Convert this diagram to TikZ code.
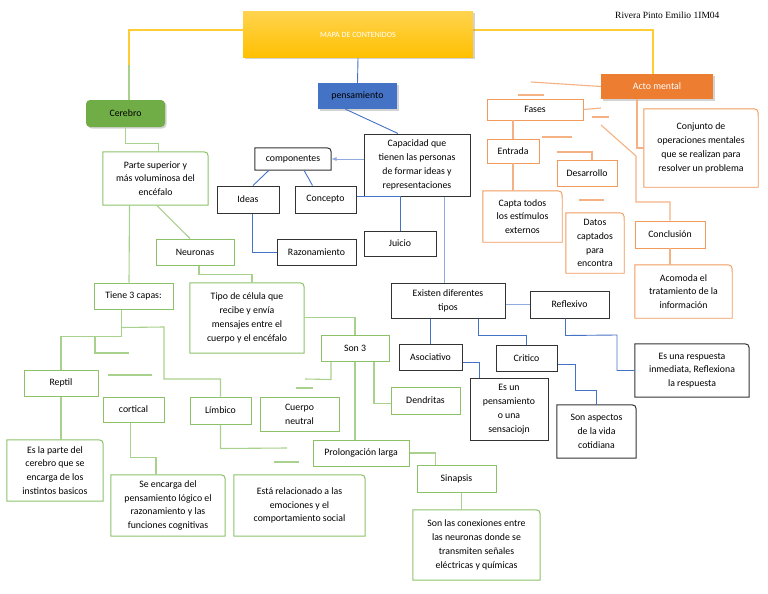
\documentclass[tikz,border=0pt]{standalone}
\usepackage{fontspec}
\setmainfont{Carlito}
\newfontfamily\tms{Liberation Serif}
\usetikzlibrary{shadows}
\definecolor{gln}{HTML}{A9D18E}
\definecolor{gbd}{HTML}{8CC168}
\definecolor{gfill}{HTML}{70AD47}
\definecolor{bln}{HTML}{4472C4}
\definecolor{lbl}{HTML}{8FAADC}
\definecolor{oln}{HTML}{F4B183}
\definecolor{obd}{HTML}{F19A5B}
\definecolor{ofill}{HTML}{ED7D31}
\definecolor{yfill}{HTML}{FFC000}
\definecolor{dk}{HTML}{333333}
\newcommand\bx[7]{\node[#6, minimum width={(#4-#2)*1pt}, minimum height={(#5-#3)*1pt}] (#1) at ({(#2+#4)/2},{(#3+#5)/2}) {#7};}
\newcommand\rc[2]{\draw[#2] (#1.south west) -- (#1.north west) -- ([xshift=-9pt]#1.north east) .. controls (#1.north east) .. ([yshift=-9pt]#1.north east) -- (#1.south east) -- cycle;}
\begin{document}
\begin{tikzpicture}[x=1pt,y=-1pt,
  every node/.style={font=\fontsize{9.8}{13.8}\selectfont, align=center, inner sep=0pt},
  gb/.style={draw=gbd, line width=1pt},
  gr/.style={draw=none},
  kb/.style={draw=dk, line width=1pt},
  ob/.style={draw=obd, line width=0.9pt},
  gl/.style={draw=gln, line width=1.1pt},
  bl/.style={draw=bln, line width=0.9pt},
  ll/.style={draw=lbl, line width=0.9pt},
  ol/.style={draw=oln, line width=1.1pt},
  sh/.style={drop shadow={opacity=0.35,shadow xshift=1.5pt,shadow yshift=-1.5pt}}]
\useasboundingbox (0,0) rectangle (768,594);

% connectors first
\draw[draw=yfill!80, line width=1.2pt] (243,30) -- (129,30) -- (129,65);
\draw[gl] (129,65) -- (129,100);
\draw[draw=yfill!80, line width=1.2pt] (473,30) -- (653,30) -- (653,74);

% top boxes
\bx{mapa}{243}{12}{473}{58}{sh, top color=yfill!70, bottom color=yfill, draw=none, text=white, font=\fontsize{8}{10}\selectfont}{MAPA DE CONTENIDOS}
\bx{acto}{601}{74}{713}{99}{sh, fill=ofill, text=white}{Acto mental}
\bx{pens}{318}{83}{397}{109}{sh, fill=bln}{pensamiento}
\bx{cer}{86}{100}{165}{127}{sh, fill=gfill, rounded corners=4pt}{Cerebro}
\node[font=\tms\fontsize{9.5}{11}\selectfont, anchor=west] (autor) at (615,15) {Rivera Pinto Emilio 1IM04};

% pensamiento branch
\bx{cap}{364}{134}{470}{196}{kb}{Capacidad que\\tienen las personas\\de formar ideas y\\representaciones}
\bx{comp}{255}{148}{331}{170}{gr}{componentes}
\rc{comp}{kb}
\bx{ideas}{217}{186}{279}{213}{kb}{Ideas}
\bx{conc}{295}{186}{356}{213}{kb}{Concepto}
\bx{raz}{277}{239}{356}{265}{kb}{Razonamiento}
\bx{jui}{364}{231}{436}{256}{kb}{Juicio}
\bx{exi}{391}{283}{505}{318}{kb}{Existen diferentes\\tipos}
\bx{ref}{530}{291}{609}{318}{kb}{Reflexivo}
\bx{aso}{399}{344}{462}{370}{kb}{Asociativo}
\bx{cri}{496}{345}{557}{371}{kb}{Critico}
\bx{esun}{470}{378}{548}{440}{kb}{Es un\\pensamiento\\o una\\sensaciojn}
\bx{asp}{557}{405}{636}{458}{gr}{Son aspectos\\de la vida\\cotidiana}
\rc{asp}{kb}
\bx{resp}{635}{344}{749}{397}{gr}{Es una respuesta\\inmediata, Reflexiona\\la respuesta}
\rc{resp}{kb}

\draw[bl] (mapa.south) -- (pens.north);
\draw[bl] ([xshift=-12pt]pens.south) -- ([xshift=-19pt]cap.north);
\draw[ll, -latex] (cap.west |- comp.east) -- (comp.east);
\draw[bl] ([xshift=-24pt]comp.south) -- ([xshift=5pt]ideas.north);
\draw[bl] ([xshift=11pt]comp.south) -- ([xshift=-13pt]conc.north);
\draw[bl] ([xshift=4pt]ideas.south) |- (raz.west);
\draw[bl] ([yshift=3pt]conc.east) -| (jui.north);
\draw[ll] ([xshift=27pt]cap.south) -- ([xshift=-4pt]exi.north);
\draw[ll] (exi.east |- ref.west) -- (ref.west);
\draw[bl] (aso.north) -- (aso.north |- exi.south);
\draw[bl] ([xshift=30pt]exi.south) -- ++(0,17) -| (cri.north);
\draw[bl] ([yshift=-5pt]aso.east) -| ([xshift=-30pt]esun.north);
\draw[bl] ([yshift=-6pt]cri.east) -- ++(18,0) -- ++(0,26) -| (asp.north);
\draw[bl] ([xshift=-4pt]ref.south) -- ++(0,17) -- (617,335) |- (resp.west);

% acto mental branch
\bx{fas}{487}{99}{583}{120}{ob}{Fases}
\bx{ent}{487}{139}{539}{163}{ob}{Entrada}
\bx{des}{557}{160}{617}{186}{ob}{Desarrollo}
\bx{capta}{483}{191}{562}{242}{gr}{Capta todos\\los estímulos\\externos}
\rc{capta}{ob}
\bx{dat}{566}{213}{624}{273}{gr}{Datos\\captados\\para\\encontra}
\rc{dat}{ob}
\bx{conj}{644}{109}{758}{187}{gr}{Conjunto de\\operaciones mentales\\que se realizan para\\resolver un problema}
\rc{conj}{ob}
\bx{concl}{635}{221}{705}{248}{ob}{Conclusión}
\bx{acom}{635}{265}{732}{318}{gr}{Acomoda el\\tratamiento de la\\información}
\rc{acom}{ob}

\draw[ol] (acto.west) -- (531,82);
\draw[ol] (518,95) -- (544,95);
\draw[ol] (fas.east) -- (601,108);
\draw[ol] (592,117) -- (609,117);
\draw[ol] (601,125) -- (636,156) -- (636,202) -| (concl.north);
\draw[ol] ([xshift=-20pt]acto.south) |- (conj.west);
\draw[ol] ([xshift=-22pt]fas.south) -- (ent.north);
\draw[ol] (542,137) -- (572,137);
\draw[ol] (557,152) -| (des.north -| 592,0);
\draw[ol] (ent.south) -- (ent.south |- capta.north);
\draw[ol] (579,200) -- (604,200);
\draw[ol] (concl.south) -- (concl.south |- acom.north);

% cerebro branch
\bx{par}{103}{152}{208}{205}{gr}{Parte superior y\\más voluminosa del\\encéfalo}
\rc{par}{gb}
\bx{neu}{156}{239}{234}{265}{gb}{Neuronas}
\bx{tip}{190}{283}{304}{353}{gr}{Tipo de célula que\\recibe y envía\\mensajes entre el\\cuerpo y el encéfalo}
\rc{tip}{gb}
\bx{tie}{94}{283}{173}{309}{gb}{Tiene 3 capas:}
\bx{son}{321}{335}{389}{361}{gb}{Son 3}
\bx{rep}{24}{370}{98}{396}{gb}{Reptil}
\bx{cor}{103}{397}{164}{422}{gb}{cortical}
\bx{lim}{190}{397}{251}{424}{gb}{Límbico}
\bx{cue}{260}{397}{339}{431}{gb}{Cuerpo\\neutral}
\bx{den}{391}{387}{460}{414}{gb}{Dendritas}
\bx{pro}{313}{440}{409}{466}{gb}{Prolongación larga}
\bx{sin}{417}{465}{496}{492}{gb}{Sinapsis}
\bx{esla}{7}{440}{103}{501}{gr}{Es la parte del\\cerebro que se\\encarga de los\\instintos basicos}
\rc{esla}{gb}
\bx{seen}{111}{475}{225}{536}{gr}{Se encarga del\\pensamiento lógico el\\razonamiento y las\\funciones cognitivas}
\rc{seen}{gb}
\bx{esta}{234}{475}{365}{536}{gr}{Está relacionado a las\\emociones y el\\comportamiento social}
\rc{esta}{gb}
\bx{sonl}{413}{510}{540}{580}{gr}{Son las conexiones entre\\las neuronas donde se\\transmiten señales\\eléctricas y químicas}
\rc{sonl}{gb}

\draw[gl] (cer.south) -- ++(0,16) -| ([xshift=3pt]par.north);
\draw[gl] ([xshift=-26pt]par.south) -- ([xshift=-4.5pt]tie.north);
\draw[gl] ([xshift=1pt]par.south) -- ([xshift=-5pt]neu.north);
\draw[gl] ([xshift=4pt]neu.south) -- ++(0,9) -| ([xshift=5pt]tip.north);
\draw[gl] ([xshift=-12pt]tie.south) -- ++(0,27) -| (rep.north);
\draw[gl] ([xshift=-12pt]tie.south) ++(0,18) -- (164,327) -- (164,379) -| (lim.north);
\draw[gl] (95,336) -- (95,353) -- (129,353);
\draw[gl] (108,375) -- (152,375);
\draw[gl] (rep.south) -- (rep.south |- esla.north);
\draw[gl] ([xshift=-3pt]cor.south) -- ++(0,35) -| ([xshift=-12pt]seen.north);
\draw[gl] (lim.south) -- ++(0,24) -- (287,448);
\draw[gl] (274,462) -- (299,462);
\draw[gl] (tip.east |- son.north) ++(0,-17) -| (son.north);
\draw[gl] ([xshift=-24pt]son.south) -- ++(0,18) -- (305,379);
\draw[gl] (296,388) -- (313,388);
\draw[gl] (son.south) -- (son.south |- pro.north);
\draw[gl] ([xshift=19pt]son.south) |- ([yshift=-3pt]den.west);
\draw[gl] (pro.east) -| ([xshift=-21pt]sin.north);
\draw[gl] ([xshift=5pt]sin.south) -- ([xshift=-15pt]sonl.north);
\end{tikzpicture}
\end{document}
